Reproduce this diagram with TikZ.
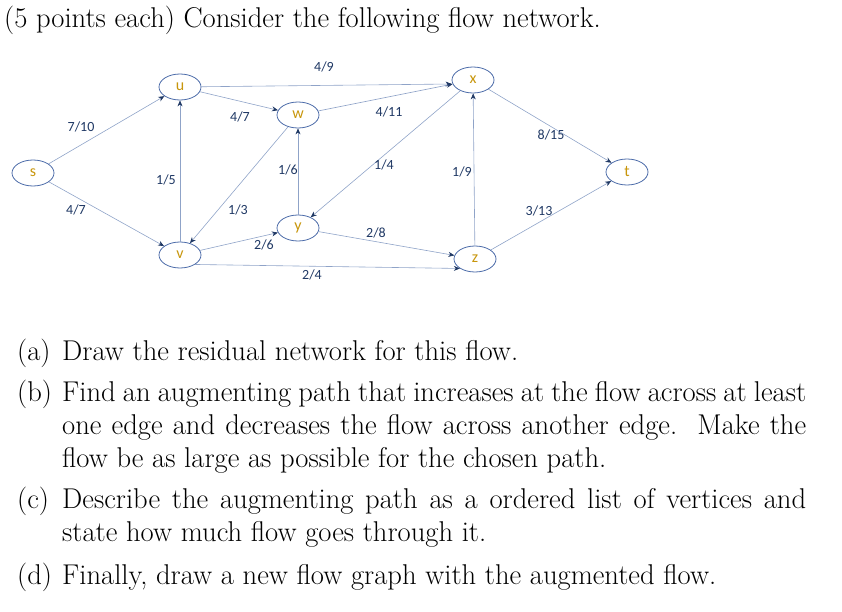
\documentclass[tikz,border=0pt]{standalone}
\usepackage{fontspec}
\newfontfamily\carl{Carlito}
\usetikzlibrary{arrows.meta,shapes.geometric}
\definecolor{edgec}{HTML}{8FA3C8}
\definecolor{nodec}{HTML}{4A6AA8}
\definecolor{labc}{HTML}{1F3864}
\definecolor{letc}{HTML}{C8960C}
\begin{document}
\begin{tikzpicture}[x=1pt,y=-1pt,
 vx/.style={draw=nodec,line width=0.8pt,ellipse,minimum width=42pt,minimum height=26pt,inner sep=0pt,font=\carl\fontsize{16}{16}\selectfont,text=letc,fill=white},
 ed/.style={draw=edgec,line width=0.6pt,-{Stealth[length=6pt,width=5pt,color=labc]}},
 lb/.style={font=\carl\fontsize{14}{14}\selectfont,text=labc,inner sep=0pt},
 tx/.style={anchor=base west,inner sep=0pt,font=\fontsize{28.6}{33}\selectfont}]
\useasboundingbox (0,0) rectangle (842,612);
\node[vx] (s) at (33,173) {s};
\node[vx] (u) at (180,87) {u};
\node[vx] (w) at (298,115) {w};
\node[vx] (v) at (180,255) {v};
\node[vx] (y) at (298,228) {y};
\node[vx] (x) at (473,80) {x};
\node[vx] (z) at (475,259) {z};
\node[vx] (t) at (627,172) {t};
\draw[ed] (s) -- (u);
\draw[ed] (s) -- (v);
\draw[ed] (v) -- (u);
\draw[ed] (u) -- (w);
\draw[ed] (u) -- ([yshift=-4pt]x.west);
\draw[ed] (w) -- (x);
\draw[ed] (w) -- (v);
\draw[ed] (y) -- (w);
\draw[ed] (x) -- (y);
\draw[ed] (v) -- (y);
\draw[ed] (y) -- (z);
\draw[ed] (v.south east) -- (z.south west);
\draw[ed] (z) -- (x);
\draw[ed] (x) -- (t);
\draw[ed] (z) -- (t);
\node[lb] at (81,127) {7/10};
\node[lb] at (76,210) {4/7};
\node[lb] at (166,180) {1/5};
\node[lb] at (240,117) {4/7};
\node[lb] at (324,67) {4/9};
\node[lb] at (389,112) {4/11};
\node[lb] at (238,210) {1/3};
\node[lb] at (288,170) {1/6};
\node[lb] at (384,165) {1/4};
\node[lb] at (264,245) {2/6};
\node[lb] at (376,233) {2/8};
\node[lb] at (312,275) {2/4};
\node[lb] at (462,172) {1/9};
\node[lb] at (551,135) {8/15};
\node[lb] at (539,211) {3/13};
\node[tx] (h) at (4,28) {(5 points each) Consider the following flow network.};
\node[tx] (a1) at (17,360) {(a)};
\node[tx] (a2) at (62,360) {Draw the residual network for this flow.};
\node[tx] (b1) at (17,401) {(b)};
\node[tx] (b2) at (62,401) {\makebox[744pt][s]{Find an augmenting path that increases at the flow across at least}};
\node[tx] (b3) at (62,434) {\makebox[744pt][s]{one edge and decreases the flow across another edge.\ \ Make the}};
\node[tx] (b4) at (62,467) {flow be as large as possible for the chosen path.};
\node[tx] (c1) at (17,508) {(c)};
\node[tx] (c2) at (62,508) {\makebox[744pt][s]{Describe the augmenting path as a ordered list of vertices and}};
\node[tx] (c3) at (62,541) {state how much flow goes through it.};
\node[tx] (d1) at (17,584) {(d)};
\node[tx] (d2) at (62,584) {Finally, draw a new flow graph with the augmented flow.};
\end{tikzpicture}
\end{document}
